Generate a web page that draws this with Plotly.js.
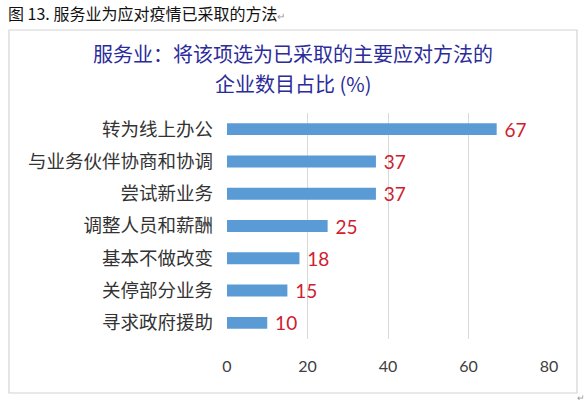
<!DOCTYPE html>
<html>
<head>
<meta charset="utf-8">
<script src="https://cdn.plot.ly/plotly-3.0.1.min.js"></script>
<style>
html,body{margin:0;padding:0;background:#fff;}
#chart{width:586px;height:407px;}
</style>
</head>
<body>
<div id="chart"></div>
<script>
// Data (top to bottom as shown)
const categories = ["转为线上办公", "与业务伙伴协商和协调", "尝试新业务", "调整人员和薪酬", "基本不做改变", "关停部分业务", "寻求政府援助"];
const shares = [67, 37, 37, 25, 18, 15, 10];
const xTicks = [0, 20, 40, 60, 80];
const titleLines = ["服务业：将该项选为已采取的主要应对方法的", "企业数目占比 (%)"];
const caption = "图 13. 服务业为应对疫情已采取的方法";

const W = 586, H = 407;
const M = {l: 227, r: 37, t: 113, b: 68};
const pw = W - M.l - M.r, ph = H - M.t - M.b;
function px(x) { return (x - M.l) / pw; }
function py(y) { return 1 - (y - M.t) / ph; }

const cjk = '"Noto Sans CJK SC", "Noto Sans", sans-serif';
const latin = 'Lato, "Noto Sans CJK SC", sans-serif';

const trace = {
  type: 'bar',
  orientation: 'h',
  y: categories,
  x: shares,
  marker: {color: '#5B9BD5'},
  width: 0.37,
  text: shares.map(String),
  texttemplate: ' %{text}',
  textposition: 'outside',
  constraintext: 'none',
  cliponaxis: false,
  textfont: {family: latin, size: 19, color: '#D0202E'},
  hoverinfo: 'none'
};

const layout = {
  width: W, height: H,
  margin: M,
  paper_bgcolor: '#ffffff',
  plot_bgcolor: '#ffffff',
  showlegend: false,
  xaxis: {
    range: [0, 80],
    tickvals: xTicks,
    ticktext: xTicks.map(String),
    showgrid: true,
    gridcolor: '#D9D9D9',
    gridwidth: 1,
    zeroline: false,
    showline: false,
    ticks: '',
    ticklabelstandoff: 16,
    tickfont: {family: latin, size: 16, color: '#404040'},
    fixedrange: true
  },
  yaxis: {
    type: 'category',
    autorange: 'reversed',
    showgrid: false,
    zeroline: false,
    showline: false,
    ticks: '',
    ticklabelstandoff: 13,
    tickfont: {family: cjk, size: 18.5, color: '#333333'},
    fixedrange: true
  },
  shapes: [{
    type: 'rect', xref: 'paper', yref: 'paper',
    x0: px(9), x1: px(577), y0: py(393), y1: py(30),
    line: {color: '#D4D4D4', width: 1.2},
    fillcolor: 'rgba(0,0,0,0)', layer: 'below'
  }],
  annotations: [{
    text: titleLines[0],
    xref: 'paper', yref: 'paper',
    x: px(293), y: py(54), xanchor: 'center', yanchor: 'middle',
    showarrow: false,
    font: {family: cjk, size: 20, color: '#2B2B9A'}
  }, {
    text: titleLines[1],
    xref: 'paper', yref: 'paper',
    x: px(293), y: py(83), xanchor: 'center', yanchor: 'middle',
    showarrow: false,
    font: {family: cjk, size: 20, color: '#2B2B9A'}
  }, {
    text: caption + '<span style="color:#999;font-size:10px">↵</span>',
    xref: 'paper', yref: 'paper',
    x: px(6), y: py(13), xanchor: 'left', yanchor: 'middle',
    showarrow: false,
    font: {family: cjk, size: 16, color: '#111111'}
  }, {
    text: '↵',
    xref: 'paper', yref: 'paper',
    x: px(581), y: py(397), xanchor: 'center', yanchor: 'middle',
    showarrow: false,
    font: {family: cjk, size: 9, color: '#999999'}
  }]
};

Plotly.newPlot('chart', [trace], layout, {displayModeBar: false, staticPlot: true});
</script>
</body>
</html>
